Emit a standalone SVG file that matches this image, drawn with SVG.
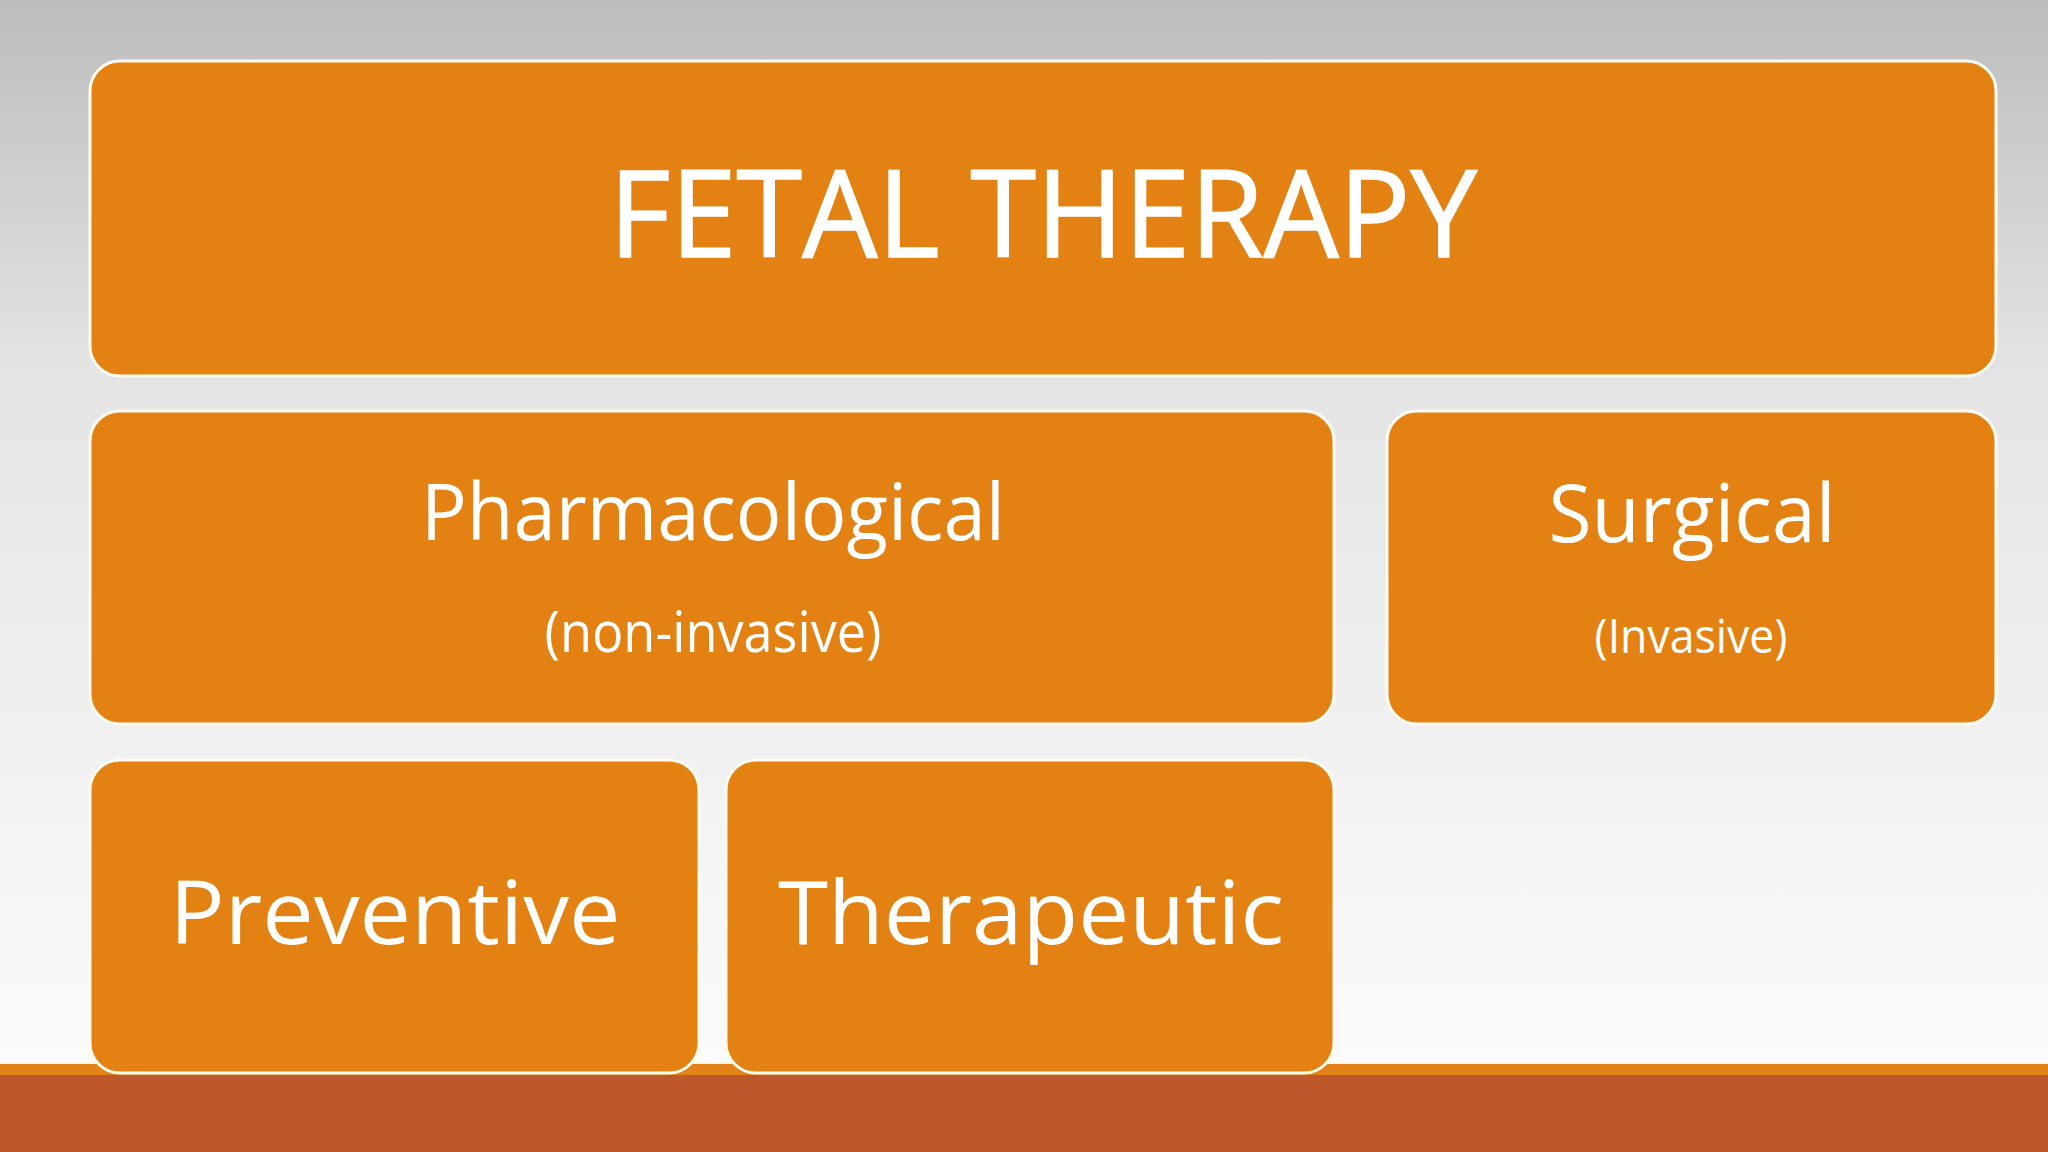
<svg xmlns="http://www.w3.org/2000/svg" width="2048" height="1152" viewBox="0 0 2048 1152">
  <defs>
    <linearGradient id="bg" x1="0" y1="0" x2="0" y2="1">
      <stop offset="0" stop-color="#bcbcbc"/>
      <stop offset="0.35" stop-color="#e4e4e4"/>
      <stop offset="1" stop-color="#fbfbfc"/>
    </linearGradient>
  </defs>
  <style>
    .box { fill: #e38213; stroke: #fdfbf0; stroke-width: 3; }
    .t { fill: #ffffff; font-family: "Open Sans", "Liberation Sans", sans-serif; text-anchor: middle; }
  </style>
  <rect x="0" y="0" width="2048" height="1063" fill="url(#bg)"/>
  <rect x="0" y="1062" width="2048" height="2" fill="#fdf6e8"/>
  <rect x="0" y="1064" width="2048" height="11" fill="#e38216"/>
  <rect x="0" y="1075" width="2048" height="77" fill="#bd582b"/>

  <g id="fetal-therapy">
    <rect class="box" x="90" y="61" width="1906" height="315" rx="30"/>
    <text class="t" x="1043" y="257" font-size="120" textLength="868" lengthAdjust="spacingAndGlyphs" stroke="#ffffff" stroke-width="1.5">FETAL THERAPY</text>
  </g>
  <g id="pharmacological">
    <rect class="box" x="90" y="411" width="1244" height="313" rx="30"/>
    <text class="t" x="713" y="540" font-size="78" textLength="584" lengthAdjust="spacingAndGlyphs">Pharmacological</text>
    <text class="t" x="713" y="652" font-size="56" textLength="337" lengthAdjust="spacingAndGlyphs">(non-invasive)</text>
  </g>
  <g id="surgical">
    <rect class="box" x="1387" y="411" width="609" height="313" rx="30"/>
    <text class="t" x="1692" y="542" font-size="80" textLength="287" lengthAdjust="spacingAndGlyphs">Surgical</text>
    <text class="t" x="1691" y="653" font-size="48" textLength="193" lengthAdjust="spacingAndGlyphs">(Invasive)</text>
  </g>
  <g id="preventive">
    <rect class="box" x="90" y="760" width="609" height="313" rx="30"/>
    <text class="t" x="395" y="944" font-size="87" textLength="451" lengthAdjust="spacingAndGlyphs">Preventive</text>
  </g>
  <g id="therapeutic">
    <rect class="box" x="726" y="760" width="608" height="313" rx="30"/>
    <text class="t" x="1031" y="944" font-size="87" textLength="506" lengthAdjust="spacingAndGlyphs">Therapeutic</text>
  </g>
  <g id="connectors"></g>
</svg>
